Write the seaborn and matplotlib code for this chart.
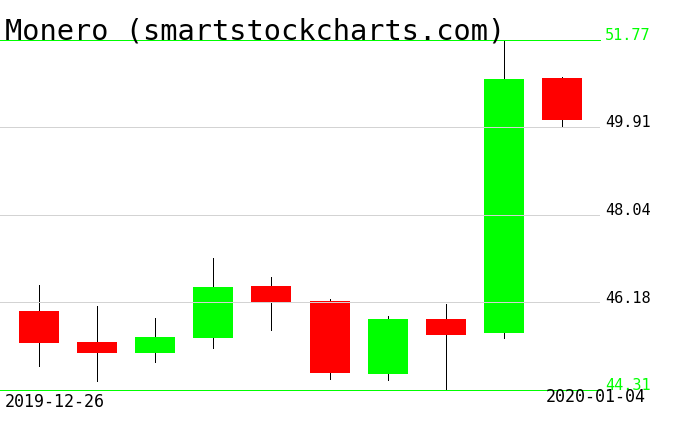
import numpy as np
import matplotlib
matplotlib.use('Agg')
import matplotlib.pyplot as plt
import matplotlib.transforms as mtransforms
import seaborn as sns

# ---------------------------------------------------------------------------
# Data
# ---------------------------------------------------------------------------
dates = ['2019-12-26', '2019-12-27', '2019-12-28', '2019-12-29', '2019-12-30',
         '2019-12-31', '2020-01-01', '2020-01-02', '2020-01-03', '2020-01-04']
opens = [45.99, 45.33, 45.10, 45.42, 46.53, 46.21, 44.66, 45.82, 45.53, 50.96]
highs = [46.55, 46.10, 45.84, 47.12, 46.72, 46.25, 45.89, 46.14, 51.77, 50.98]
lows = [44.83, 44.51, 44.91, 45.21, 45.59, 44.55, 44.53, 44.31, 45.42, 49.91]
closes = [45.30, 45.10, 45.44, 46.51, 46.16, 44.67, 45.82, 45.49, 50.94, 50.05]

price_low = 44.31
price_high = 51.77
grid_levels = [49.91, 48.04, 46.18]
title = 'Monero (smartstockcharts.com)'

UP = '#00FF00'
DOWN = '#FF0000'
GRID = '#D3D3D3'

# ---------------------------------------------------------------------------
# Figure
# ---------------------------------------------------------------------------
sns.set_style('white')
plt.rcParams['font.family'] = ['DejaVu Sans Mono', 'DejaVu Sans']
plt.rcParams['text.color'] = 'black'

W, H = 676, 431
LW = 0.72  # one pixel at 100 dpi
fig = plt.figure(figsize=(W / 100, (H + 0.5) / 100), dpi=100)
fig.patch.set_facecolor('white')

# axes spans pixel x 0..600, y 40..390 (top -> bottom)
ax = fig.add_axes([0, (H - 390) / H, 600 / W, 350 / H])
ax.set_facecolor('none')

n = len(dates)
x = np.arange(n)
opens = np.array(opens)
closes = np.array(closes)
colors = [UP if c >= o else DOWN for o, c in zip(opens, closes)]

ax.vlines(x, lows, highs, color='black', linewidth=LW, zorder=1,
          antialiased=False)
ax.bar(x, np.abs(closes - opens), bottom=np.minimum(opens, closes),
       width=0.69, color=colors, linewidth=0, zorder=2)

for lvl in grid_levels:
    ax.axhline(lvl, color=GRID, linewidth=LW, zorder=3, antialiased=False)
for lvl in [price_high, price_low]:
    ax.axhline(lvl, color=UP, linewidth=LW, zorder=3, clip_on=False,
               antialiased=False)

ax.set_xlim(-39 / 58.11, (600 - 39) / 58.11)
ax.set_ylim(price_low, price_high)
ax.set_xticks([])
ax.set_yticks([])
sns.despine(ax=ax, left=True, bottom=True)

# price labels on the right
trans = mtransforms.blended_transform_factory(ax.transAxes, ax.transData)
for lvl in grid_levels:
    ax.text(605 / 600, lvl, f'{lvl:.2f}', transform=trans, fontsize=11,
            color='black', va='baseline', ha='left', clip_on=False)
for lvl in [price_high, price_low]:
    ax.text(605 / 600, lvl, f'{lvl:.2f}', transform=trans, fontsize=11,
            color=UP, va='baseline', ha='left', clip_on=False)

# date labels
fig.text(5 / W, 1 - 407 / H, dates[0], fontsize=12, ha='left', va='baseline')
fig.text(646 / W, 1 - 402 / H, dates[-1], fontsize=12, ha='right', va='baseline')

# title
fig.text(5 / W, 1 - 39 / H, title, fontsize=20.6, ha='left', va='baseline')

fig.savefig('out.png', dpi=100, facecolor='white')
